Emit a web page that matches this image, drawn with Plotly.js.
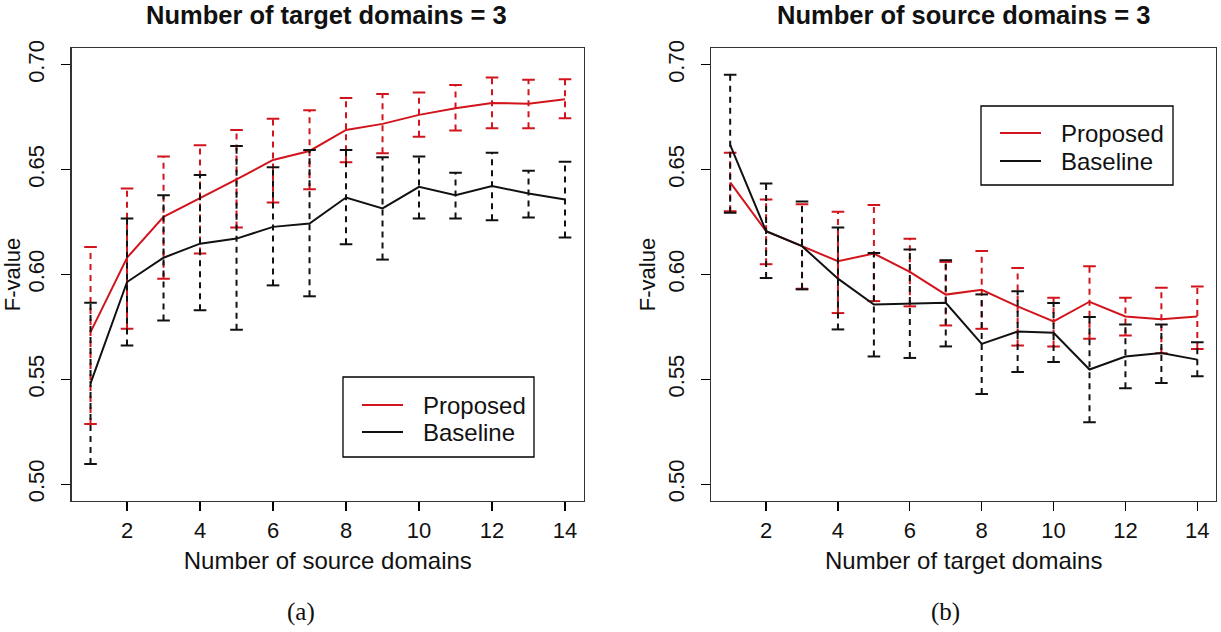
<!DOCTYPE html>
<html>
<head>
<meta charset="utf-8">
<script src="https://cdn.plot.ly/plotly-3.0.1.min.js"></script>
<style>
  html, body { margin: 0; padding: 0; background: #fff; }
  #chart { width: 1221px; height: 632px; }
</style>
</head>
<body>
<div id="chart"></div>
<script>
// x values: number of domains
var xs = [1, 2, 3, 4, 5, 6, 7, 8, 9, 10, 11, 12, 13, 14];

// (a) number of target domains = 3
var propA    = [0.5725, 0.608, 0.6275, 0.6363, 0.6453, 0.6546, 0.6589, 0.6689, 0.6718, 0.6761, 0.6793, 0.6818, 0.6814, 0.6836];
var propA_hi = [0.6131, 0.641, 0.6562, 0.6616, 0.6689, 0.6743, 0.6783, 0.6841, 0.686, 0.6868, 0.6903, 0.6939, 0.6928, 0.6931];
var propA_lo = [0.5287, 0.5741, 0.598, 0.61, 0.6224, 0.6343, 0.6406, 0.6535, 0.6578, 0.6657, 0.6686, 0.6697, 0.6697, 0.6745];
var baseA    = [0.5481, 0.5964, 0.608, 0.6147, 0.6171, 0.6227, 0.6243, 0.6367, 0.6315, 0.6418, 0.6378, 0.6422, 0.6386, 0.6358];
var baseA_hi = [0.5865, 0.6267, 0.6378, 0.6474, 0.6613, 0.6511, 0.6594, 0.6594, 0.6559, 0.6562, 0.6485, 0.6581, 0.6495, 0.6538];
var baseA_lo = [0.5096, 0.5661, 0.5781, 0.5829, 0.5736, 0.5948, 0.5896, 0.6144, 0.6071, 0.6267, 0.6267, 0.6259, 0.6272, 0.6176];

// (b) number of source domains = 3
var propB    = [0.6439, 0.6206, 0.6135, 0.6063, 0.61, 0.6012, 0.5904, 0.5927, 0.5848, 0.5776, 0.587, 0.58, 0.5787, 0.58];
var propB_hi = [0.6581, 0.6358, 0.6335, 0.6299, 0.6331, 0.617, 0.606, 0.6112, 0.6031, 0.5889, 0.6039, 0.5889, 0.5937, 0.5943];
var propB_lo = [0.6302, 0.6049, 0.5932, 0.5816, 0.5873, 0.5848, 0.5757, 0.5741, 0.5661, 0.5657, 0.5693, 0.5709, 0.5625, 0.5645];
var baseB    = [0.6618, 0.6206, 0.6135, 0.598, 0.5857, 0.5861, 0.5865, 0.5669, 0.5728, 0.5722, 0.5547, 0.5609, 0.5625, 0.5594];
var baseB_hi = [0.6952, 0.6434, 0.6348, 0.6224, 0.6103, 0.6119, 0.6068, 0.5905, 0.592, 0.5864, 0.5797, 0.5762, 0.5762, 0.5677];
var baseB_lo = [0.6294, 0.5983, 0.5929, 0.5738, 0.5609, 0.5602, 0.5657, 0.543, 0.5535, 0.5583, 0.5295, 0.5457, 0.5483, 0.5515];

var xTicks = [2, 4, 6, 8, 10, 12, 14];
var yTicks = [0.50, 0.55, 0.60, 0.65, 0.70];
var yTickText = ['0.50', '0.55', '0.60', '0.65', '0.70'];
var seriesNames = ['Proposed', 'Baseline'];

var RED = '#d2141c';
var BLACK = '#111111';
var FONT = 'Liberation Sans, Arial, sans-serif';

// dashed whiskers + caps for one series
function errTraces(lo, hi, color, xa, ya) {
  var sx = [], sy = [];
  for (var i = 0; i < xs.length; i++) {
    sx.push(xs[i], xs[i], null);
    sy.push(lo[i], hi[i], null);
  }
  var whisk = {
    x: sx, y: sy, xaxis: xa, yaxis: ya, mode: 'lines', showlegend: false,
    hoverinfo: 'skip', line: {color: color, width: 2, dash: '6px,5px'}
  };
  var caps = {
    x: xs.concat(xs), y: lo.concat(hi), xaxis: xa, yaxis: ya, mode: 'markers',
    showlegend: false, hoverinfo: 'skip',
    marker: {symbol: 'line-ew', size: 9, color: color, line: {color: color, width: 2}}
  };
  return [whisk, caps];
}

function meanTrace(ys, name, color, xa, ya) {
  return {
    x: xs, y: ys, name: name, xaxis: xa, yaxis: ya, showlegend: false,
    mode: 'lines', line: {color: color, width: 2}
  };
}

var data = []
  .concat([meanTrace(propA, seriesNames[0], RED, 'x', 'y')])
  .concat(errTraces(propA_lo, propA_hi, RED, 'x', 'y'))
  .concat([meanTrace(baseA, seriesNames[1], BLACK, 'x', 'y')])
  .concat(errTraces(baseA_lo, baseA_hi, BLACK, 'x', 'y'))
  .concat([meanTrace(propB, seriesNames[0], RED, 'x2', 'y2')])
  .concat(errTraces(propB_lo, propB_hi, RED, 'x2', 'y2'))
  .concat([meanTrace(baseB, seriesNames[1], BLACK, 'x2', 'y2')])
  .concat(errTraces(baseB_lo, baseB_hi, BLACK, 'x2', 'y2'));

function xAxis(dom, anchor, title) {
  return {
    domain: dom, anchor: anchor, range: [0.48, 14.52],
    tickmode: 'array', tickvals: xTicks, ticks: 'outside', ticklen: 9, tickwidth: 1.3,
    tickcolor: '#000', showgrid: false, zeroline: false,
    showline: true, mirror: true, linecolor: '#333', linewidth: 1.3,
    tickfont: {family: FONT, size: 22, color: '#111'},
    title: {text: title, font: {family: FONT, size: 24, color: '#111'}, standoff: 10}
  };
}
function yAxis(dom, anchor) {
  return {
    domain: dom, anchor: anchor, range: [0.492, 0.708],
    tickmode: 'array', tickvals: yTicks, ticktext: yTickText, tickangle: -90,
    ticks: 'outside', ticklen: 9, tickwidth: 1.3, tickcolor: '#000', ticklabelstandoff: 8,
    showgrid: false, zeroline: false,
    showline: true, mirror: true, linecolor: '#333', linewidth: 1.3,
    tickfont: {family: FONT, size: 22, color: '#111'},
    title: {text: 'F-value', font: {family: FONT, size: 22, color: '#111'}, standoff: 2}
  };
}

// manual legend boxes (R style): box in px, line x span, text x, row ys
function legendParts(box, lineX0, lineX1, textX, rowY) {
  var W = 1221, H = 632;
  var shapes = [{type: 'rect', xref: 'paper', yref: 'paper',
    x0: box[0] / W, x1: box[1] / W, y0: (H - box[3]) / H, y1: (H - box[2]) / H,
    line: {color: '#000', width: 1.3}}];
  var anns = [];
  var cols = [RED, BLACK];
  for (var i = 0; i < seriesNames.length; i++) {
    shapes.push({type: 'line', xref: 'paper', yref: 'paper',
      x0: lineX0 / W, x1: lineX1 / W, y0: (H - rowY[i]) / H, y1: (H - rowY[i]) / H,
      line: {color: cols[i], width: 2}});
    anns.push({text: seriesNames[i], xref: 'paper', yref: 'paper',
      x: textX / W, y: (H - rowY[i]) / H, xanchor: 'left', yanchor: 'middle',
      showarrow: false, font: {family: FONT, size: 24, color: '#111'}});
  }
  return {shapes: shapes, anns: anns};
}
var legA = legendParts([343, 534, 377, 457], 362, 403, 421, [405, 432]);
var legB = legendParts([981, 1173, 106, 185], 1000, 1041, 1059, [133, 161]);

var yDom = [0.2073, 0.9241];
var layout = {
  width: 1221, height: 632,
  margin: {l: 0, r: 0, t: 0, b: 0},
  paper_bgcolor: '#fff', plot_bgcolor: '#fff',
  showlegend: false,
  xaxis: xAxis([0.0586, 0.4783], 'y', 'Number of source domains'),
  yaxis: yAxis(yDom, 'x'),
  xaxis2: xAxis([0.5827, 0.9959], 'y2', 'Number of target domains'),
  yaxis2: yAxis(yDom, 'x2'),
  shapes: legA.shapes.concat(legB.shapes),
  annotations: [
    {text: '<b>Number of target domains = 3</b>', xref: 'paper', yref: 'paper',
     x: 326 / 1221, y: (632 - 15) / 632, xanchor: 'center', yanchor: 'middle',
     showarrow: false, font: {family: FONT, size: 25.5, color: '#111'}},
    {text: '<b>Number of source domains = 3</b>', xref: 'paper', yref: 'paper',
     x: 963 / 1221, y: (632 - 15) / 632, xanchor: 'center', yanchor: 'middle',
     showarrow: false, font: {family: FONT, size: 25.5, color: '#111'}},
    {text: '(a)', xref: 'paper', yref: 'paper', x: 301 / 1221, y: (632 - 612) / 632,
     xanchor: 'center', yanchor: 'middle', showarrow: false,
     font: {family: 'Liberation Serif, Times New Roman, serif', size: 25, color: '#111'}},
    {text: '(b)', xref: 'paper', yref: 'paper', x: 945 / 1221, y: (632 - 612) / 632,
     xanchor: 'center', yanchor: 'middle', showarrow: false,
     font: {family: 'Liberation Serif, Times New Roman, serif', size: 25, color: '#111'}}
  ].concat(legA.anns).concat(legB.anns)
};

Plotly.newPlot('chart', data, layout, {staticPlot: true});
</script>
</body>
</html>
